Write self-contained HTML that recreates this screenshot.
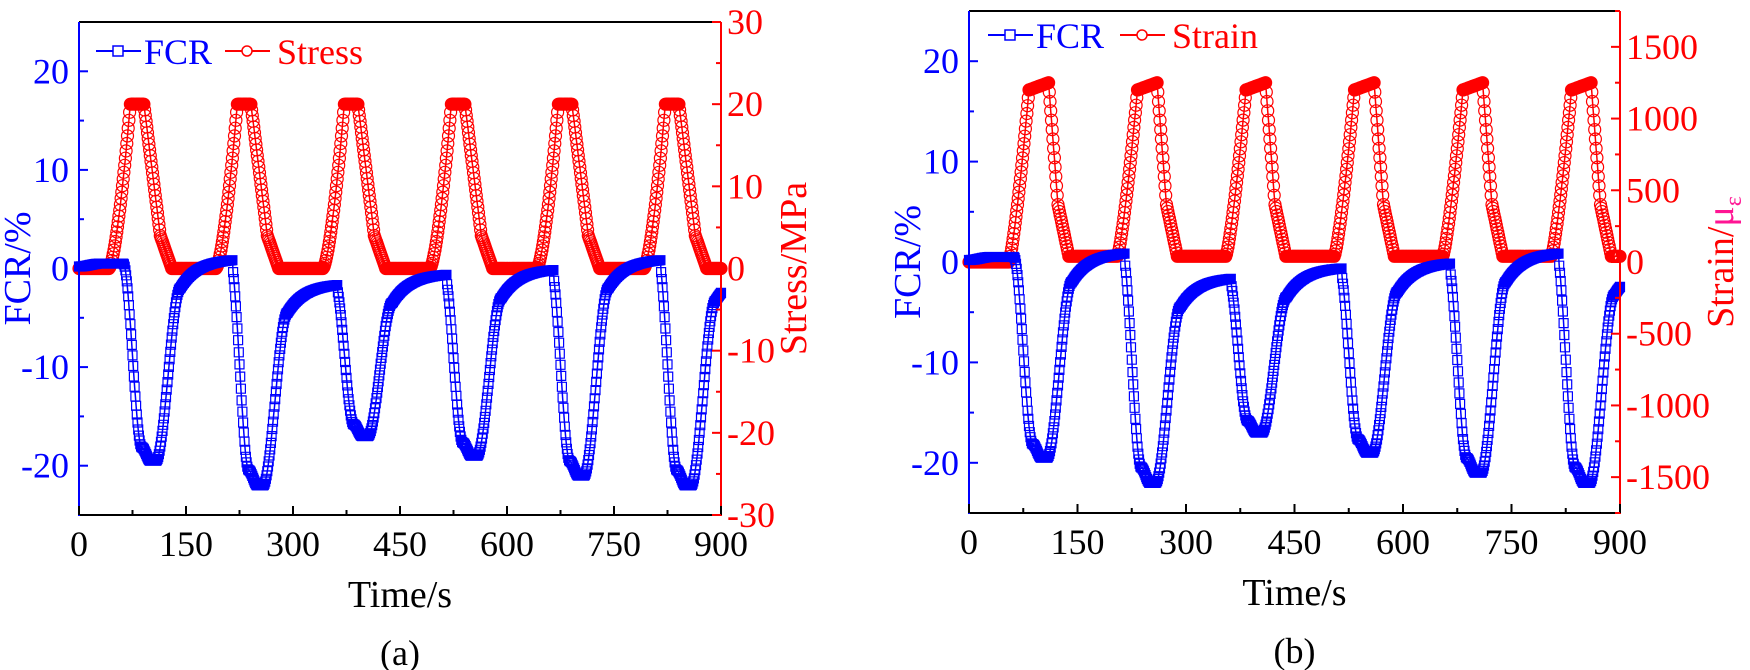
<!DOCTYPE html>
<html><head><meta charset="utf-8"><style>
html,body{margin:0;padding:0;background:#fff}
svg{display:block}
text{font-family:"Liberation Serif",serif}
</style></head><body>
<svg id="s" width="1750" height="670" xmlns="http://www.w3.org/2000/svg"></svg>
<script>
const S=document.getElementById('s');let h='';
function sm(a,b,t){t=Math.max(0,Math.min(1,(t-a)/(b-a)));return t*t*(3-2*t);}
const tms=[100,250,397,550,700,850];
const mns=[-19.5,-22,-17,-19,-21,-22];
const plats=[0.5,1,-1.5,-0.5,0,1,-0.3];
function fcr(t){
 let k=0; while(k<5 && t>tms[k]+60+ (tms[k+1]-tms[k]-95)) k++;
 // find segment: before drop of cycle k -> recovery from k-1
 const tm=tms[k],mn=mns[k],tA=tm-38;
 if(t<tA){
  if(k==0) return 0.2+0.3*sm(0,30,t);
  const pm=tms[k-1],pmn=mns[k-1],post=plats[k];
  return rec(t,pm,pmn,post);
 }
 if(t<=tm+8){
  const pre=plats[k];
  if(t<tm-12) return pre+(mn*0.93-pre)*sm(tA,tm-12,t);
  return mn*0.93+(mn-mn*0.93)*sm(tm-12,tm,t);
 }
 return rec(t,tm,mn,plats[k+1]);
}
function rec(t,tm,mn,post){
 const r0=tm+8,r1=tm+42;
 if(t<r0) return mn;
 if(t<=r1) return mn+((post-3)-mn)*sm(r0,r1,t);
 return (post-3)+3*(1-Math.exp(-(t-r1)/25));
}
function stress(t){
 if(t<42) return 0;
 let tt=(t-42)%150;
 if(tt<30) return 20*Math.pow(tt/30,1.5);
 if(tt<49) return 20;
 if(tt<72) return 20-16*((tt-49)/23);
 if(tt<88) return 4*(1-(tt-72)/16);
 return 0;
}
function strain(t){
 if(t<55) return 0;
 let tt=(t-55)%150, base=40;
 if(tt<28){const s0=(t<150?0:base);return s0+(1200-s0)*Math.pow(tt/28,1.3);}
 if(tt<55) return 1200+50*((tt-28)/27);
 if(tt<68) return 1250-850*((tt-55)/13);
 if(tt<83) return 400-360*((tt-68)/15);
 return base;
}
function panel(P){
 const {x0,x1,y0,y1,r,leg,legy,lbl,rtitle}=P;
 const X=t=>x0+(x1-x0)*t/900, YL=v=>y1-(y1-y0)*(v+25)/50, YR=v=>y1-(y1-y0)*(v-r.min)/(r.max-r.min);
 let pr='',pb='',lr='',lb='';
 const R=6, Q=4.5;
 for(let t=0;t<=900;t+=1){
  const xr=X(t),yr=YR(P.rf(t));
  pr+=`M${(xr-R).toFixed(1)},${yr.toFixed(1)}a${R},${R} 0 1,0 ${2*R},0a${R},${R} 0 1,0 ${-2*R},0`;
  lr+=(t?'L':'M')+xr.toFixed(1)+','+yr.toFixed(1);
 }
 for(let t=0;t<=900;t+=1){
  const xb=X(t),yb=YL(fcr(t));
  pb+=`M${(xb-Q).toFixed(1)},${(yb-Q).toFixed(1)}h${2*Q}v${2*Q}h${-2*Q}z`;
  lb+=(t?'L':'M')+xb.toFixed(1)+','+yb.toFixed(1);
 }
 h+=`<path d="${lr}" fill="none" stroke="#f00" stroke-width="1.5"/><path d="${pr}" fill="none" stroke="#f00" stroke-width="1.2"/>`;
 h+=`<path d="${lb}" fill="none" stroke="#00f" stroke-width="1.5"/><path d="${pb}" fill="none" stroke="#00f" stroke-width="1.2"/>`;
 h+=`<line x1="${x0}" y1="${y0}" x2="${x1}" y2="${y0}" stroke="#000" stroke-width="2"/>`;
 h+=`<line x1="${x0}" y1="${y1}" x2="${x1}" y2="${y1}" stroke="#000" stroke-width="2"/>`;
 h+=`<line x1="${x0}" y1="${y0}" x2="${x0}" y2="${y1+1}" stroke="#00f" stroke-width="2"/>`;
 h+=`<line x1="${x1}" y1="${y0}" x2="${x1}" y2="${y1+1}" stroke="#f00" stroke-width="2"/>`;
 for(let t=0;t<=900;t+=75){const x=X(t);h+=`<line x1="${x}" y1="${y1}" x2="${x}" y2="${y1-(t%150?5:9)}" stroke="#000" stroke-width="2"/>`;
  if(t%150==0)h+=`<text x="${x}" y="${y1+41}" font-size="36" text-anchor="middle">${t}</text>`;}
 for(let v=-20;v<=20;v+=5){const y=YL(v);h+=`<line x1="${x0}" y1="${y}" x2="${x0+(v%10?5:9)}" y2="${y}" stroke="#00f" stroke-width="2"/>`;
  if(v%10==0)h+=`<text x="${x0-10}" y="${y+12}" font-size="36" fill="#00f" text-anchor="end">${v}</text>`;}
 for(let v=r.min;v<=r.max+1e-6;v+=r.minor){const y=YR(v);const maj=Math.abs(v%r.major)<1e-6;
  h+=`<line x1="${x1}" y1="${y}" x2="${x1-(maj?9:5)}" y2="${y}" stroke="#f00" stroke-width="2"/>`;
  if(maj)h+=`<text x="${x1+6}" y="${y+12}" font-size="36" fill="#f00">${v}</text>`;}
 h+=`<text x="${(x0+x1)/2}" y="${y1+92}" font-size="38" text-anchor="middle">Time/s</text>`;
 h+=`<text x="${(x0+x1)/2}" y="${y1+150}" font-size="36" text-anchor="middle">${lbl}</text>`;
 h+=`<text transform="translate(${P.lt},${(y0+y1)/2}) rotate(-90)" font-size="38" fill="#00f" text-anchor="middle">FCR/%</text>`;
 h+=`<text transform="translate(${P.rt},${(y0+y1)/2}) rotate(-90)" font-size="38" fill="#f00" text-anchor="middle">${rtitle}</text>`;
 const a=leg[0],c=leg[1];
 h+=`<line x1="${a}" y1="${legy}" x2="${a+45}" y2="${legy}" stroke="#00f" stroke-width="2"/><rect x="${a+17}" y="${legy-5}" width="10" height="10" fill="#fff" stroke="#00f" stroke-width="1.5"/>`;
 h+=`<text x="${a+48}" y="${legy+13}" font-size="36" fill="#00f">FCR</text>`;
 h+=`<line x1="${c}" y1="${legy}" x2="${c+45}" y2="${legy}" stroke="#f00" stroke-width="2"/><circle cx="${c+22}" cy="${legy}" r="5" fill="#fff" stroke="#f00" stroke-width="1.5"/>`;
 h+=`<text x="${c+52}" y="${legy+13}" font-size="36" fill="#f00">${P.rname}</text>`;
}
panel({x0:79,x1:721,y0:22,y1:515,r:{min:-30,max:30,major:10,minor:5},rf:stress,leg:[96,225],legy:51,lbl:'(a)',rtitle:'Stress/MPa',rname:'Stress',lt:30,rt:806});
panel({x0:969,x1:1620,y0:11,y1:513,r:{min:-1750,max:1750,major:500,minor:250},rf:strain,leg:[988,1120],legy:35,lbl:'(b)',rtitle:'Strain/<tspan fill="#ff1493">μ<tspan font-size="24" dy="8">ε</tspan></tspan>',rname:'Strain',lt:920,rt:1733});
S.innerHTML=h;
</script>
</body></html>
